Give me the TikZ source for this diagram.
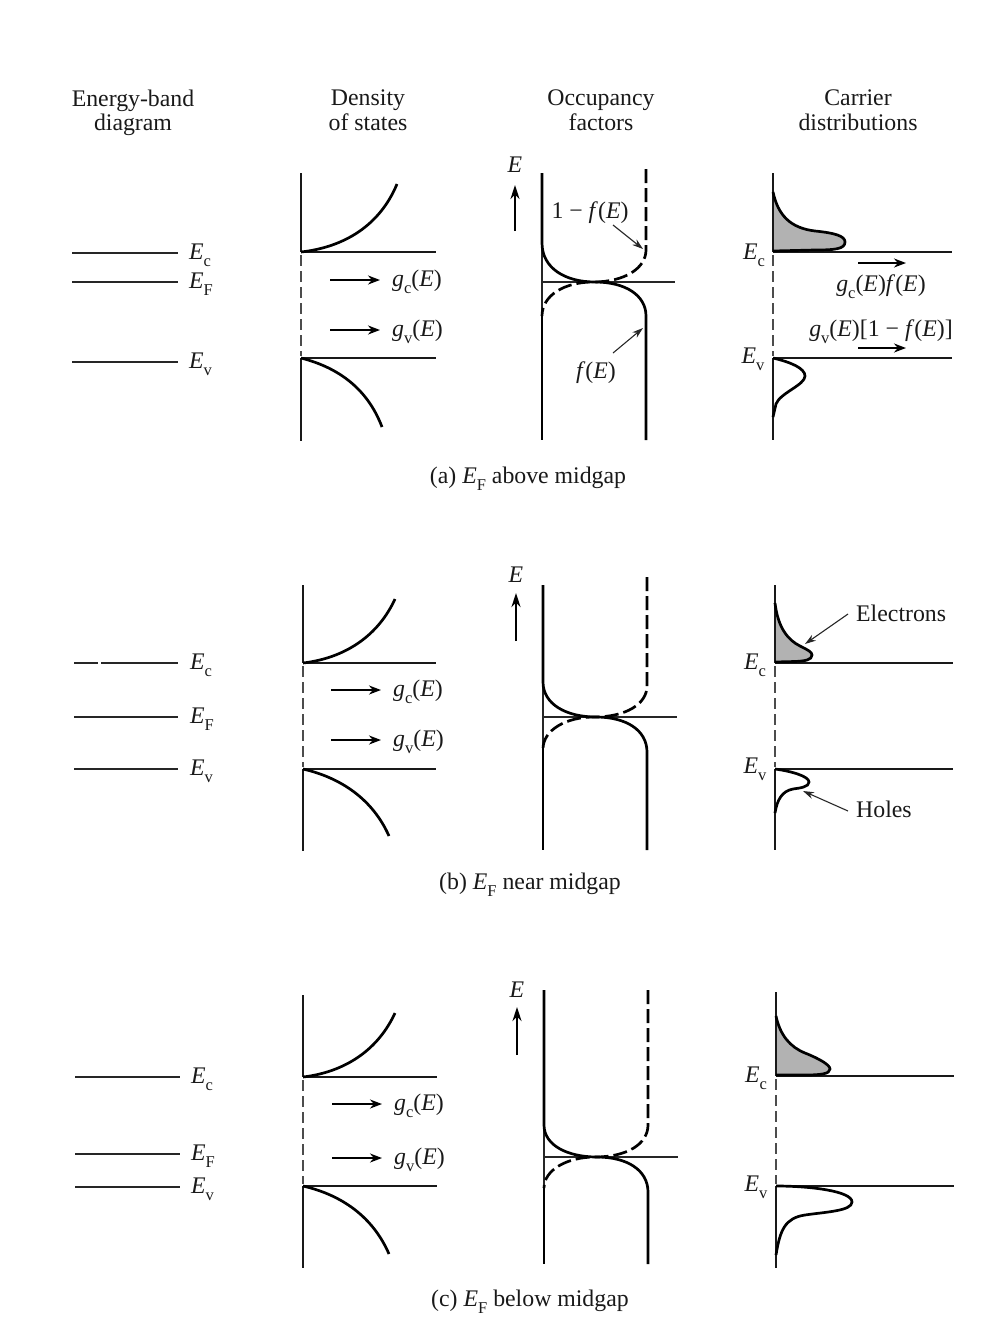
\documentclass[tikz,border=0pt]{standalone}
\usepackage{fontspec}
\setmainfont{Liberation Serif}
\usetikzlibrary{arrows.meta}
\newcommand{\sbs}[1]{\raisebox{-0.3em}{\fontsize{16.5}{16.5}\selectfont #1}}
\newcommand{\vE}{\textit{E}}
\newcommand{\vf}{\textit{f}}
\newcommand{\vg}{\textit{g}}
\newcommand{\hl}{\rule[-6pt]{0pt}{18pt}}
\tikzset{
  txt/.style={inner sep=0pt,align=center,font=\fontsize{23.8}{24.5}\selectfont,text=black!90},
  lvl/.style={anchor=west,txt},
  thin line/.style={line width=1.1pt,black!85},
  axis line/.style={line width=1.6pt,black!90},
  gapline/.style={line width=1.1pt,black!70,dash pattern=on 11pt off 5pt},
  curve/.style={line width=2.7pt,black},
  occ/.style={line width=2.7pt,black},
  occdash/.style={line width=2.7pt,black,dash pattern=on 14pt off 5pt},
  occthin/.style={line width=1.2pt,black!85},
  arr/.style={line width=2.3pt,black,-{Stealth[length=12pt,width=9pt]}},
  uparr/.style={line width=2.2pt,black,-{Stealth[length=14pt,width=9pt]}},
  leader/.style={line width=1.1pt,black!85,-{Stealth[length=11pt,width=7pt]}},
  carrier/.style={line width=2.7pt,black},
  carrierfill/.style={fill=black!30,draw=none}
}
\begin{document}
\begin{tikzpicture}[x=1pt,y=-1pt]
\useasboundingbox (0,0) rectangle (996,1318);

% ---------- headers
\node[txt] (h1) at (133,113) {\hl Energy-band\\\hl diagram};
\node[txt] (h2) at (368,113) {\hl Density\\\hl of states};
\node[txt] (h3) at (601,113) {\hl Occupancy\\\hl factors};
\node[txt] (h4) at (858,113) {\hl Carrier\\\hl distributions};

% ========== PANEL A
\draw[thin line] (72,253) -- (178,253);
\draw[thin line] (72,282) -- (178,282);
\draw[thin line] (72,362) -- (178,362);
\node[lvl] (aEc) at (189,255) {\vE\sbs{c}};
\node[lvl] (aEF) at (189,284) {\vE\sbs{F}};
\node[lvl] (aEv) at (189,364) {\vE\sbs{v}};
% density of states
\draw[axis line] (301,173) -- (301,252);
\draw[gapline] (301,255) -- (301,356);
\draw[axis line] (301,358) -- (301,441);
\draw[axis line] (301,252) -- (436,252);
\draw[axis line] (301,358) -- (436,358);
\draw[curve] (301,252) .. controls (345,247) and (380,225) .. (397,184);
\draw[curve] (301,358) .. controls (340,368) and (368,390) .. (382,427);
\coordinate (aa1) at (330,280); \coordinate (aa2) at (380,280);
\coordinate (aa3) at (330,330); \coordinate (aa4) at (380,330);
\draw[arr] (aa1) -- (aa2);
\draw[arr] (aa3) -- (aa4);
\node[lvl] (agc) at (392,282) {\vg\sbs{c}(\vE)};
\node[lvl] (agv) at (392,332) {\vg\sbs{v}(\vE)};
% occupancy
\draw[occthin] (542,243) -- (542,316);
\draw[occthin] (542,282) -- (675,282);
\draw[occ] (542,173) -- (542,243) .. controls (542,268) and (565,282) .. (595,282) .. controls (625,282) and (646,295) .. (646,316) -- (646,440);
\draw[occdash] (646,169) -- (646,250) .. controls (646,268) and (625,282) .. (593,282) .. controls (565,282) and (542,295) .. (542,316);
\draw[occ] (542,314) -- (542,440);
\coordinate (aeu1) at (515,231); \coordinate (aeu2) at (515,185);
\draw[uparr] (aeu1) -- (aeu2);
\node[txt] (aE) at (515,165) {\vE};
\node[txt] (a1f) at (590,213) {1 − \vf(\vE)};
\node[txt] (af) at (596,373) {\vf(\vE)};
\coordinate (al1) at (613,225); \coordinate (al2) at (643,249);
\coordinate (al3) at (613,353); \coordinate (al4) at (643,328);
\draw[leader] (al1) -- (al2);
\draw[leader] (al3) -- (al4);
% carriers
\path[carrierfill] (773,192) .. controls (778,215) and (790,228) .. (815,231) .. controls (835,233) and (845,236) .. (845,242) .. controls (845,249) and (835,250) .. (815,250) -- (773,251) -- cycle;
\draw[axis line] (773,173) -- (773,252);
\draw[gapline] (773,255) -- (773,356);
\draw[axis line] (773,358) -- (773,440);
\draw[axis line] (773,252) -- (952,252);
\draw[axis line] (773,358) -- (952,358);
\draw[carrier] (773,192) .. controls (778,215) and (790,228) .. (815,231) .. controls (835,233) and (845,236) .. (845,242) .. controls (845,249) and (835,250) .. (815,250) -- (773,251);
\draw[carrier] (773,358) .. controls (790,362) and (805,368) .. (805,376) .. controls (805,385) and (780,393) .. (776,404) -- (773,417);
\coordinate (ab1) at (858,263); \coordinate (ab2) at (906,263);
\coordinate (ab3) at (858,348); \coordinate (ab4) at (906,348);
\draw[arr] (ab1) -- (ab2);
\draw[arr] (ab3) -- (ab4);
\node[txt] (aEcc) at (754,255) {\vE\sbs{c}};
\node[txt] (aEvc) at (753,359) {\vE\sbs{v}};
\node[txt] (agf) at (881,287) {\vg\sbs{c}(\vE)\vf(\vE)};
\node[txt] (agh) at (881,332) {\vg\sbs{v}(\vE)[1 − \vf(\vE)]};
\node[txt] (acap) at (528,479) {(a) \vE\sbs{F} above midgap};

% ========== PANEL B
\draw[thin line] (74,663) -- (98,663);
\draw[thin line] (101,663) -- (178,663);
\draw[thin line] (74,717) -- (178,717);
\draw[thin line] (74,769) -- (178,769);
\node[lvl] (bEc) at (190,665) {\vE\sbs{c}};
\node[lvl] (bEF) at (190,719) {\vE\sbs{F}};
\node[lvl] (bEv) at (190,771) {\vE\sbs{v}};
\draw[axis line] (303,585) -- (303,663);
\draw[gapline] (303,666) -- (303,767);
\draw[axis line] (303,769) -- (303,851);
\draw[axis line] (303,663) -- (436,663);
\draw[axis line] (303,769) -- (436,769);
\draw[curve] (303,663) .. controls (345,658) and (378,636) .. (395,599);
\draw[curve] (303,769) .. controls (342,778) and (373,800) .. (389,836);
\coordinate (ba1) at (331,690); \coordinate (ba2) at (381,690);
\coordinate (ba3) at (331,740); \coordinate (ba4) at (381,740);
\draw[arr] (ba1) -- (ba2);
\draw[arr] (ba3) -- (ba4);
\node[lvl] (bgc) at (393,692) {\vg\sbs{c}(\vE)};
\node[lvl] (bgv) at (393,742) {\vg\sbs{v}(\vE)};
\draw[occthin] (543,682) -- (543,752);
\draw[occthin] (543,717) -- (677,717);
\draw[occ] (543,585) -- (543,682) .. controls (543,704) and (566,717) .. (596,717) .. controls (626,717) and (647,730) .. (647,752) -- (647,850);
\draw[occdash] (647,577) -- (647,686) .. controls (647,704) and (626,717) .. (594,717) .. controls (566,717) and (543,730) .. (543,749);
\draw[occ] (543,748) -- (543,850);
\coordinate (beu1) at (516,641); \coordinate (beu2) at (516,593);
\draw[uparr] (beu1) -- (beu2);
\node[txt] (bE) at (516,575) {\vE};
\path[carrierfill] (775,603) .. controls (778,628) and (788,640) .. (800,646) .. controls (808,650) and (812,652) .. (812,655) .. controls (812,660) and (805,661) .. (795,661.5) -- (775,662) -- cycle;
\draw[axis line] (775,585) -- (775,663);
\draw[gapline] (775,666) -- (775,767);
\draw[axis line] (775,769) -- (775,850);
\draw[axis line] (775,663) -- (953,663);
\draw[axis line] (775,769) -- (953,769);
\draw[carrier] (775,603) .. controls (778,628) and (788,640) .. (800,646) .. controls (808,650) and (812,652) .. (812,655) .. controls (812,660) and (805,661) .. (795,661.5) -- (775,662);
\draw[carrier] (775,769) .. controls (790,771) and (809,776) .. (809,782) .. controls (809,787) and (800,788) .. (793,789) .. controls (782,791) and (777,800) .. (775,813);
\node[txt] (bEcc) at (755,665) {\vE\sbs{c}};
\node[txt] (bEvc) at (755,769) {\vE\sbs{v}};
\node[txt,anchor=west] (bel) at (856,613) {Electrons};
\node[txt,anchor=west] (bho) at (856,809) {Holes};
\coordinate (bt1) at (805,644); \coordinate (bt2) at (803,791);
\draw[leader] (bel.west) ++(-8,1) -- (bt1);
\draw[leader] (bho.west) ++(-8,2) -- (bt2);
\node[txt] (bcap) at (530,885) {(b) \vE\sbs{F} near midgap};

% ========== PANEL C
\draw[thin line] (75,1077) -- (180,1077);
\draw[thin line] (75,1154) -- (180,1154);
\draw[thin line] (75,1187) -- (180,1187);
\node[lvl] (cEc) at (191,1079) {\vE\sbs{c}};
\node[lvl] (cEF) at (191,1156) {\vE\sbs{F}};
\node[lvl] (cEv) at (191,1189) {\vE\sbs{v}};
\draw[axis line] (303,995) -- (303,1077);
\draw[gapline] (303,1080) -- (303,1184);
\draw[axis line] (303,1186) -- (303,1268);
\draw[axis line] (303,1077) -- (437,1077);
\draw[axis line] (303,1186) -- (437,1186);
\draw[curve] (303,1077) .. controls (345,1072) and (378,1050) .. (395,1013);
\draw[curve] (303,1186) .. controls (342,1195) and (373,1217) .. (389,1254);
\coordinate (ca1) at (332,1104); \coordinate (ca2) at (382,1104);
\coordinate (ca3) at (332,1158); \coordinate (ca4) at (382,1158);
\draw[arr] (ca1) -- (ca2);
\draw[arr] (ca3) -- (ca4);
\node[lvl] (cgc) at (394,1106) {\vg\sbs{c}(\vE)};
\node[lvl] (cgv) at (394,1160) {\vg\sbs{v}(\vE)};
\draw[occthin] (544,1125) -- (544,1192);
\draw[occthin] (544,1157) -- (678,1157);
\draw[occ] (544,990) -- (544,1125) .. controls (544,1145) and (567,1157) .. (597,1157) .. controls (627,1157) and (648,1170) .. (648,1192) -- (648,1264);
\draw[occdash] (648,990) -- (648,1125) .. controls (648,1144) and (627,1157) .. (595,1157) .. controls (567,1157) and (544,1170) .. (544,1188);
\draw[occ] (544,1187) -- (544,1264);
\coordinate (ceu1) at (517,1055); \coordinate (ceu2) at (517,1007);
\draw[uparr] (ceu1) -- (ceu2);
\node[txt] (cE) at (517,990) {\vE};
\path[carrierfill] (776,1016) .. controls (780,1035) and (790,1047) .. (805,1053) .. controls (820,1059) and (830,1065) .. (830,1069) .. controls (830,1074) and (820,1075) .. (805,1075) -- (776,1075) -- cycle;
\draw[axis line] (776,992) -- (776,1076);
\draw[gapline] (776,1079) -- (776,1184);
\draw[axis line] (776,1186) -- (776,1268);
\draw[axis line] (776,1076) -- (954,1076);
\draw[axis line] (776,1186) -- (954,1186);
\draw[carrier] (776,1016) .. controls (780,1035) and (790,1047) .. (805,1053) .. controls (820,1059) and (830,1065) .. (830,1069) .. controls (830,1074) and (820,1075) .. (805,1075) -- (776,1075);
\draw[carrier] (776,1186) .. controls (810,1186) and (852,1191) .. (852,1202) .. controls (852,1211) and (825,1212) .. (805,1215) .. controls (785,1218) and (780,1230) .. (776,1255);
\node[txt] (cEcc) at (756,1078) {\vE\sbs{c}};
\node[txt] (cEvc) at (756,1187) {\vE\sbs{v}};
\node[txt] (ccap) at (530,1302) {(c) \vE\sbs{F} below midgap};
\end{tikzpicture}
\end{document}
